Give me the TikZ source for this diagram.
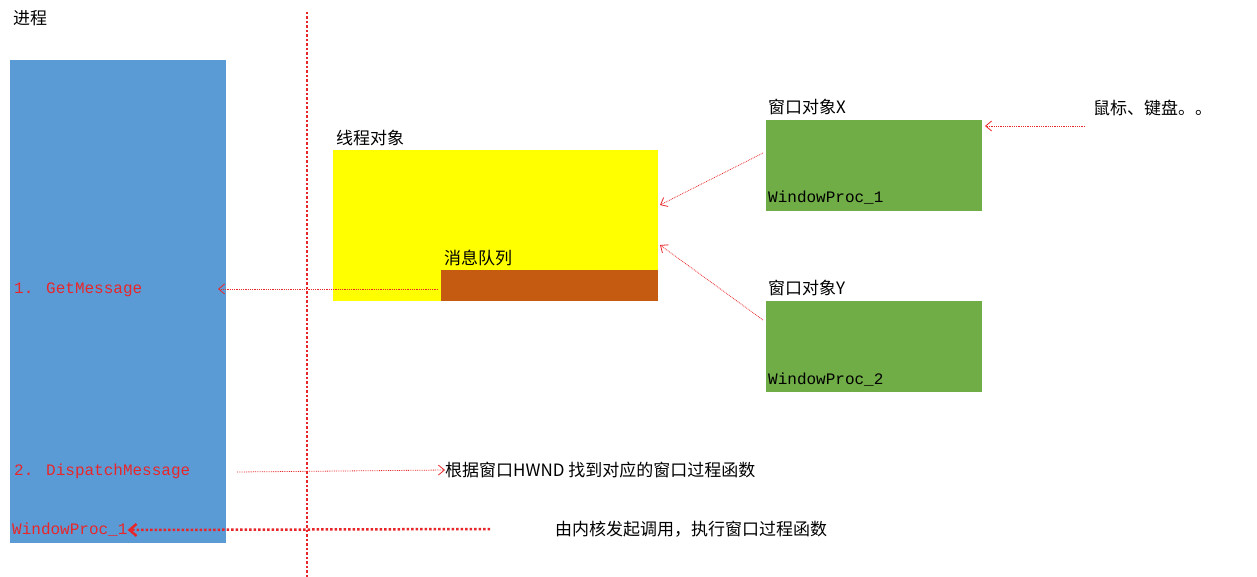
\documentclass[tikz,border=0pt]{standalone}
\usepackage{fontspec}
\setmainfont{Noto Sans CJK SC}
\newfontfamily\monof{Liberation Mono}
\usetikzlibrary{arrows.meta}
\definecolor{pblue}{HTML}{5B9BD5}
\definecolor{pyellow}{HTML}{FFFF00}
\definecolor{porange}{HTML}{C55A11}
\definecolor{pgreen}{HTML}{70AD47}
\definecolor{pred}{HTML}{E8262A}
\begin{document}
\begin{tikzpicture}[x=1pt,y=-1pt,
  cjk/.style={font=\fontsize{17}{17}\selectfont, inner sep=0pt},
  mono/.style={font=\monof\fontsize{16}{16}\selectfont, inner sep=0pt},
  redmono/.style={mono, text=pred},
  rarrow/.style={draw=pred, densely dotted, thick, -{Straight Barb[length=6pt,width=10pt]}},
  bigarrow/.style={draw=pred, dotted, line width=2.5pt, -{Straight Barb[length=7pt,width=12pt]}}]
\useasboundingbox (0,0) rectangle (1257,577);
\fill[white] (0,0) rectangle (1257,577);
\node[cjk, anchor=west] (proc) at (13,18) {进程};
\fill[pblue] (10,60) rectangle (226,543);
\draw[pred, dotted, line width=2.5pt] (307,12) -- (307,577);
\node[cjk, anchor=west] (tl) at (336,138) {线程对象};
\fill[pyellow] (333,150) rectangle (658,301);
\node[fill=porange, minimum width=217pt, minimum height=31pt, inner sep=0pt, anchor=north west] (q) at (441,270) {};
\node[cjk, anchor=west] (ql) at (444,258) {消息队列};
\coordinate (ya) at (660,205);
\coordinate (yb) at (660,245);
\node[fill=pgreen, minimum width=216pt, minimum height=91pt, inner sep=0pt, anchor=north west] (wx) at (766,120) {};
\node[cjk, anchor=west] at (768,107) {窗口对象X};
\node[mono, anchor=west] at (768,198) {WindowProc\_1};
\node[fill=pgreen, minimum width=216pt, minimum height=91pt, inner sep=0pt, anchor=north west] (wy) at (766,301) {};
\node[cjk, anchor=west] at (768,288) {窗口对象Y};
\node[mono, anchor=west] at (768,380) {WindowProc\_2};
\node[cjk, anchor=west] (mk) at (1093,108) {鼠标、键盘。。};
\coordinate (mks) at (1085,126);
\coordinate (wxe) at (985,126);
\draw[rarrow] (mks) -- (wxe);
\draw[rarrow] (763,153) -- (ya);
\draw[rarrow] (763,320) -- (yb);
\node[redmono, anchor=west] (gm) at (14,290) {1. GetMessage};
\coordinate (gmend) at (218,289);
\draw[rarrow] (438,289) -- (gmend);
\node[redmono, anchor=west] (dm) at (14,471) {2. DispatchMessage};
\node[cjk, anchor=west] (dt) at (445,470) {根据窗口HWND 找到对应的窗口过程函数};
\draw[rarrow] (237,472) -- (dt.west);
\node[redmono, anchor=west] (wp) at (12,530) {WindowProc\_1};
\node[cjk, anchor=west] (kt) at (555,529) {由内核发起调用，执行窗口过程函数};
\coordinate (ks) at (490,529);
\draw[bigarrow] (ks) -- (wp.east);
\end{tikzpicture}
\end{document}
